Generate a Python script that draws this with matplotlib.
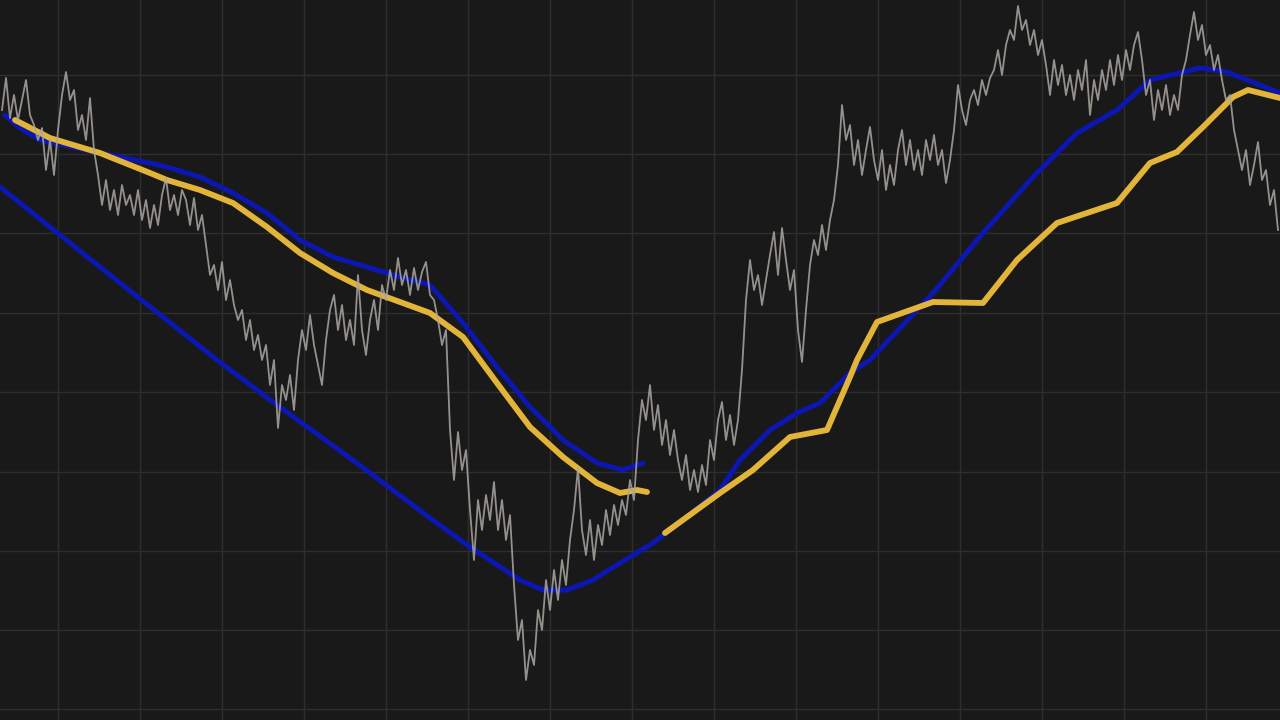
import numpy as np
import matplotlib
matplotlib.use("Agg")
import matplotlib.pyplot as plt

# price series (one value per bar)
price = [
    610, 642, 602, 625, 600, 620, 640, 605, 595, 580, 592, 550, 580, 545, 590,
    625, 648, 620, 630, 590, 605, 580, 622, 570, 545, 515, 540, 510, 530, 505,
    535, 515, 525, 505, 530, 500, 520, 492, 515, 495, 525, 542, 510, 525, 505,
    530, 520, 495, 522, 490, 505, 475, 445, 455, 430, 458, 420, 440, 415, 400,
    410, 380, 400, 370, 385, 360, 375, 335, 360, 292, 335, 320, 345, 310, 360,
    390, 370, 405, 375, 355, 335, 380, 410, 425, 390, 415, 380, 400, 375, 445,
    390, 365, 400, 420, 390, 435, 420, 450, 430, 462, 435, 450, 425, 452, 430,
    448, 458, 425, 420, 400, 375, 390, 290, 240, 288, 250, 270, 210, 160, 220,
    190, 225, 200, 238, 190, 220, 180, 205, 135, 80, 100, 40, 70, 55, 110,
    90, 140, 110, 150, 120, 160, 135, 180, 210, 252, 190, 165, 200, 160, 195,
    175, 210, 185, 215, 195, 220, 205, 240, 220, 280, 320, 300, 335, 290, 315,
    275, 300, 265, 290, 260, 240, 265, 230, 250, 228, 255, 235, 280, 260, 300,
    318, 280, 305, 275, 300, 350, 420, 460, 430, 445, 415, 440, 465, 488, 445,
    492, 460, 430, 450, 390, 358, 410, 455, 480, 465, 495, 470, 500, 520, 555,
    615, 580, 595, 555, 580, 545, 570, 593, 560, 540, 570, 530, 555, 535, 570,
    590, 555, 580, 550, 570, 545, 580, 560, 585, 555, 570, 537, 560, 590, 635,
    610, 595, 620, 630, 615, 640, 625, 642, 650, 670, 645, 675, 690, 680, 714,
    690, 700, 675, 690, 665, 680, 655, 625, 660, 635, 655, 625, 645, 620, 650,
    630, 660, 605, 640, 620, 650, 630, 660, 635, 665, 640, 670, 650, 675, 688,
    660, 625, 640, 600, 630, 610, 635, 605, 625, 610, 645, 660, 685, 708, 680,
    695, 665, 675, 650, 665, 640, 620, 625, 590, 570, 550, 570, 535, 555, 578,
    540, 550, 515, 530, 490,
]

# slow moving average (lower band)
slow_x = [-0.5, 24.5, 53.75, 67.75, 87, 107, 117, 129.5, 135.25, 141.25,
          147.75, 154.5, 162.75, 171.25, 179.5, 184.5, 192, 198.75, 204.5, 212,
          217, 232.75, 245.25, 257.75, 268.75, 278.75, 287, 299.5, 306.25, 319.5]
slow_y = [533, 453, 360, 318, 262, 202, 173, 140, 130, 130,
          140, 157, 177, 203, 230, 260, 290, 307, 317, 347,
          360, 427, 487, 543, 587, 610, 640, 652, 648, 627]

# upper band (first half only)
upper_x = [0.75, 4.5, 9.5, 24.5, 37, 41.25, 49.5, 57.75, 66.25, 74.5, 82.75,
           91.25, 99.5, 107, 115.25, 123.75, 132, 140.25, 148.75, 155.25, 160.25]
upper_y = [605, 592, 580, 567, 557, 553, 543, 527, 507, 480, 463,
           453, 443, 435, 397, 353, 313, 280, 257, 250, 257]

# fast average, two pieces
fast1_x = [3.25, 12, 24.5, 37, 41.25, 49.5, 57.75, 66.25, 74.5, 82.75, 91.25,
           99.5, 107, 115.25, 123.75, 132, 140.25, 148.75, 154.5, 158.75, 161.25]
fast1_y = [600, 582, 567, 547, 540, 530, 517, 493, 467, 447, 430,
           418, 407, 383, 337, 293, 263, 237, 227, 230, 228]
fast2_x = [165.75, 179.5, 187.75, 197, 206.25, 212, 213.75, 218.75, 232.75, 245.25,
           253.75, 263.75, 278.75, 287, 293.75, 300.25, 307.75, 311.5, 319.5]
fast2_y = [187, 227, 250, 283, 290, 343, 360, 398, 418, 417,
           460, 497, 517, 557, 568, 593, 623, 630, 622]

bg = "#191919"
fig = plt.figure(figsize=(12.8, 7.2), dpi=100, facecolor=bg)
ax = fig.add_axes([0, 0, 1, 1])
ax.set_facecolor(bg)

bars = np.arange(len(price))
style = dict(solid_capstyle="round", solid_joinstyle="round")

ax.plot(slow_x, slow_y, color="#0c16b0", lw=3.6, zorder=3, **style)
ax.plot(upper_x, upper_y, color="#0c16b0", lw=3.6, zorder=3, **style)
ax.plot(fast1_x, fast1_y, color="#e2b43a", lw=4.2, zorder=4, **style)
ax.plot(fast2_x, fast2_y, color="#e2b43a", lw=4.2, zorder=4, **style)
ax.plot(bars, price, color="#aba7a1", lw=1.3, alpha=0.85, zorder=5)

ax.set_xlim(-0.5, 319.5)
ax.set_ylim(0, 720)
ax.set_xticks(np.arange(14, 320, 20.5))
ax.set_yticks([11, 90, 169, 248, 328, 407, 487, 566, 645])
ax.grid(True, color="#2e2e2e", lw=1.0)
ax.tick_params(length=0, labelbottom=False, labelleft=False)
for s in ax.spines.values():
    s.set_visible(False)

fig.savefig("out.png", dpi=100, facecolor=bg)
